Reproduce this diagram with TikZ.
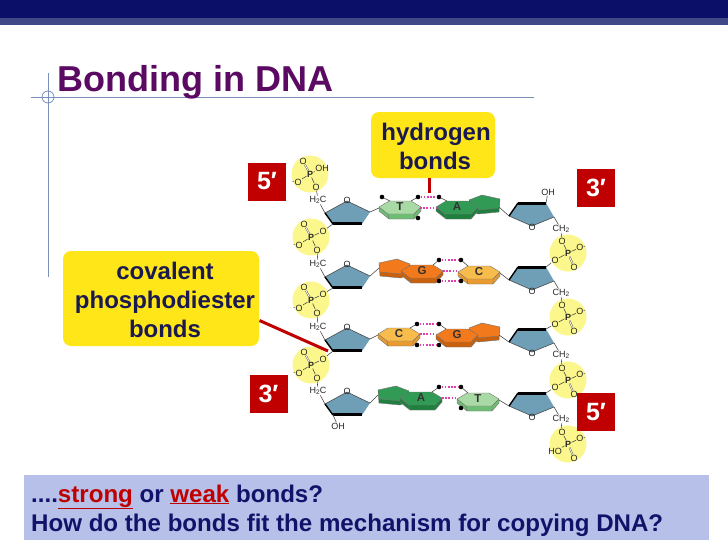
\documentclass[tikz,border=0pt]{standalone}
\usepackage{fontspec}
\setmainfont{Liberation Sans}
\definecolor{navy}{HTML}{0C0F68}
\definecolor{navylow}{HTML}{404888}
\definecolor{guide}{HTML}{7A90B8}
\definecolor{titlepurple}{HTML}{5A0A62}
\definecolor{callout}{HTML}{FFE619}
\definecolor{darkink}{HTML}{1A1A50}
\definecolor{tagred}{HTML}{C00000}
\definecolor{barblue}{HTML}{B6C0E8}
\definecolor{barink}{HTML}{12126A}
\definecolor{sugarblue}{HTML}{6E9FB6}
\definecolor{phosyellow}{HTML}{FBF78C}
\definecolor{hbond}{HTML}{E040B0}
\definecolor{tface}{HTML}{A9D9A4}\definecolor{tside}{HTML}{6FBD74}
\definecolor{aface}{HTML}{319B55}\definecolor{aside}{HTML}{1F7F3E}
\definecolor{gface}{HTML}{F27A1C}\definecolor{gside}{HTML}{C9600E}
\definecolor{cface}{HTML}{F8BC4C}\definecolor{cside}{HTML}{E99A30}
\newcommand{\subtwo}{\raisebox{-1.5pt}{\fontsize{6.5}{7}\selectfont 2}}
\newcommand{\mns}{\raisebox{2pt}{\fontsize{6.5}{7}\selectfont -}}
\tikzset{
  x=1pt,y=-1pt,
  atom/.style={font=\fontsize{9}{9}\selectfont,inner sep=0.3pt,text=black!85},
  bondline/.style={draw=black!75,line width=0.55pt},
  callbox/.style={fill=callout,rounded corners=8pt},
  callink/.style={font=\bfseries\fontsize{24}{24}\selectfont,text=darkink,inner sep=0pt,anchor=base},
  tagbox/.style={fill=tagred,draw=none,minimum width=38pt,minimum height=38pt,inner sep=0pt,text=white,font=\bfseries\fontsize{25}{25}\selectfont},
  barink/.style={font=\bfseries\fontsize{24.1}{24}\selectfont,text=barink,inner sep=0pt,anchor=base west},
  redlead/.style={draw=tagred,line width=3pt},
  hdot/.style={circle,fill=black,inner sep=0pt,minimum size=4.6pt},
  hdash/.style={draw=hbond,line width=1.6pt,dash pattern=on 1.6pt off 1.6pt},
  pics/sugarleft/.style={code={
    \fill[sugarblue] (0,1)--(23,12)--(15,24)--(-14,24)--(-22,13)--cycle;
    \draw[black!70,line width=.6pt] (0,1)--(23,12) (0,1)--(-22,13);
    \draw[black,line width=2.8pt] (-14,23.5)--(15,23.5);
    \draw[black,line width=1.4pt] (-22,13)--(-14,24);
    \node[atom] (-O) at (0,0) {O};
    \coordinate (-c) at (23,12);
    \coordinate (-p) at (-14,24);
    \coordinate (-up) at (-22,13);
  }},
  pics/sugarright/.style={code={
    \fill[sugarblue] (0,-1)--(22,-10)--(14,-24)--(-14,-24)--(-23,-11)--cycle;
    \draw[black!70,line width=.6pt] (0,-1)--(22,-10) (0,-1)--(-23,-11);
    \draw[black,line width=2.8pt] (-14,-23.5)--(14,-23.5);
    \draw[black,line width=1.4pt] (-23,-11)--(-14,-24);
    \node[atom] (-O) at (0,0) {O};
    \coordinate (-c) at (-23,-11);
    \coordinate (-p) at (14,-24);
    \coordinate (-dn) at (22,-10);
  }},
  pics/phosleft/.style={code={
    \fill[phosyellow] (0,0) circle (18.5);
    \node[atom,font=\bfseries\fontsize{9}{9}\selectfont] (-P) at (0,0) {P};
    \node[atom] (-top) at (-7,-13) {O};
    \node[atom] (-side) at (12,-6) {#1};
    \node[atom] (-neg) at (-13,8) {\mns O};
    \node[atom] (-bot) at (6,13) {O};
    \draw[bondline] (-P)--(-side) (-P)--(-neg) (-P)--(-bot);
    \draw[bondline,double,double distance=.9pt,line width=.4pt] (-P)--(-top);
  }},
  pics/phosright/.style={code={
    \fill[phosyellow] (0,0) circle (18.5);
    \node[atom,font=\bfseries\fontsize{9}{9}\selectfont] (-P) at (0,0) {P};
    \node[atom] (-top) at (-6,-12) {O};
    \node[atom] (-neg) at (13,-6) {O\mns};
    \node[atom] (-side) at (-13,7) {#1};
    \node[atom] (-bot) at (6,14) {O};
    \draw[bondline] (-P)--(-side) (-P)--(-neg) (-P)--(-top);
    \draw[bondline,double,double distance=.9pt,line width=.4pt] (-P)--(-bot);
  }},
  pics/base/.style n args={4}{code={
    \ifnum#4=0
      \coordinate (-L) at (-21,0);\coordinate (-R) at (21,0);
    \else\ifnum#4=1
      \coordinate (-L) at (-21,0);\coordinate (-R) at (42,-1);
    \else
      \coordinate (-L) at (-43,-4);\coordinate (-R) at (21,0);
    \fi\fi
    \ifnum#4=0\else
    \begin{scope}[xscale=#4]
      \fill[#2] (12,-8)--(43,-9)--(42,4)--(21,6)--(12,3)--cycle;
      \fill[#1] (12,-8)--(25,-13)--(43,-9)--(42,0)--(21,2)--cycle;
      \draw[black!55,line width=.4pt] (12,-8)--(25,-13)--(43,-9)--(42,4)--(21,6) (42,0)--(21,2);
    \end{scope}
    \fi
    \fill[#2] (-21,-1)--(-21,3)--(-11,11)--(14,11)--(21,3)--(21,-1)--cycle;
    \fill[#1] (-21,-1)--(-11,-7)--(11,-7)--(21,-1)--(14,6)--(-12,6)--cycle;
    \draw[black!55,line width=.4pt] (-21,-1)--(-11,-7)--(11,-7)--(21,-1)--(21,3)--(14,11)--(-11,11)--(-21,3)--cycle (-21,-1)--(-12,6)--(14,6)--(21,-1) (14,6)--(14,11) (-12,6)--(-11,11);
    \node[font=\bfseries\fontsize{11.5}{12}\selectfont,inner sep=0pt,text=black!80] (-t) at (0,-1) {#3};
  }}
}
\begin{document}
\begin{tikzpicture}
\useasboundingbox (0,0) rectangle (728,546);
\fill[white] (0,0) rectangle (728,546);
% header band
\fill[navylow] (0,18) rectangle (728,25);
\fill[navy] (0,0) rectangle (728,18);
% title guide
\draw[guide,line width=.8pt] (30.5,97) -- (534,97);
\draw[guide,line width=.8pt] (48,73) -- (48,277);
\draw[guide,line width=.8pt] (48,97) circle (6);
\node[font=\bfseries\fontsize{36}{36}\selectfont,text=titlepurple,inner sep=0pt,anchor=base west] (title) at (57,91) {Bonding in DNA};
% phosphates
\pic (pl1) at (310,174) {phosleft={OH}};
\pic (pl2) at (311,237) {phosleft={O}};
\pic (pl3) at (311,300) {phosleft={O}};
\pic (pl4) at (311,365) {phosleft={O}};
\pic (pr1) at (568,253) {phosright={O}};
\pic (pr2) at (568,317) {phosright={O}};
\pic (pr3) at (568,380) {phosright={O}};
\pic (pr4) at (568,444) {phosright={HO}};
% sugars
\pic (sl1) at (347,200) {sugarleft};
\pic (sl2) at (347,264) {sugarleft};
\pic (sl3) at (347,327) {sugarleft};
\pic (sl4) at (347,391) {sugarleft};
\pic (sr1) at (532,227) {sugarright};
\pic (sr2) at (532,291) {sugarright};
\pic (sr3) at (532,353) {sugarright};
\pic (sr4) at (532,417) {sugarright};
% carbon labels
\node[atom] (h1) at (318,200) {H\subtwo C};
\node[atom] (h2) at (318,264) {H\subtwo C};
\node[atom] (h3) at (318,327) {H\subtwo C};
\node[atom] (h4) at (318,391) {H\subtwo C};
\node[atom] (c1) at (561,229) {CH\subtwo};
\node[atom] (c2) at (561,293) {CH\subtwo};
\node[atom] (c3) at (561,355) {CH\subtwo};
\node[atom] (c4) at (561,419) {CH\subtwo};
\node[atom] (oh3) at (338,426) {OH};
\node[atom] (oh5) at (548,192) {OH};
\draw[bondline] (pl1-bot)--(h1) (pl2-bot)--(h2) (pl3-bot)--(h3) (pl4-bot)--(h4);
\draw[bondline] (h1)--(sl1-up) (h2)--(sl2-up) (h3)--(sl3-up) (h4)--(sl4-up);
\draw[bondline] (sl1-p)--(pl2-side) (sl2-p)--(pl3-side) (sl3-p)--(pl4-side);
\draw[bondline] (sl4-p)--(oh3) (sr1-p)--(oh5);
\draw[bondline] (sr1-dn)--(c1) (sr2-dn)--(c2) (sr3-dn)--(c3) (sr4-dn)--(c4);
\draw[bondline] (c1)--(pr1-top) (c2)--(pr2-top) (c3)--(pr3-top) (c4)--(pr4-top);
\draw[bondline] (sr2-p)--(pr1-side) (sr3-p)--(pr2-side) (sr4-p)--(pr3-side);
% bases
\pic (b1l) at (400,208) {base={tface}{tside}{T}{0}};
\pic (b1r) at (457,208) {base={aface}{aside}{A}{1}};
\pic (b2l) at (422,272) {base={gface}{gside}{G}{-1}};
\pic (b2r) at (479,273) {base={cface}{cside}{C}{0}};
\pic (b3l) at (399,335) {base={cface}{cside}{C}{0}};
\pic (b3r) at (457,336) {base={gface}{gside}{G}{1}};
\pic (b4l) at (421,399) {base={aface}{aside}{A}{-1}};
\pic (b4r) at (478,400) {base={tface}{tside}{T}{0}};
\draw[bondline] (sl1-c)--(b1l-L) (sl2-c)--(b2l-L) (sl3-c)--(b3l-L) (sl4-c)--(b4l-L);
\draw[bondline] (b1r-R)--(sr1-c) (b2r-R)--(sr2-c) (b3r-R)--(sr3-c) (b4r-R)--(sr4-c);
% hydrogen bond dots, row by row
\node[hdot] (d1a) at (382,197) {}; \node[hdot] (d1b) at (418,197) {};
\node[hdot] (d1c) at (418,218) {}; \node[hdot] (d1d) at (439,197) {};
\coordinate (m1a) at (420,208); \coordinate (m1b) at (437,208);
\draw[hdash] (d1b)--(d1d); \draw[hdash] (m1a)--(m1b);
\draw[bondline] (d1a)--(390,201) (d1b)--(411,201) (d1d)--(447,201);
\node[hdot] (d2a) at (439,260) {}; \node[hdot] (d2b) at (461,260) {};
\node[hdot] (d2c) at (439,281) {}; \node[hdot] (d2d) at (461,281) {};
\coordinate (m2a) at (443,271); \coordinate (m2b) at (458,271);
\draw[hdash] (d2a)--(d2b); \draw[hdash] (m2a)--(m2b); \draw[hdash] (d2c)--(d2d);
\draw[bondline] (d2a)--(433,265) (d2b)--(468,266);
\node[hdot] (d3a) at (417,324) {}; \node[hdot] (d3b) at (439,324) {};
\node[hdot] (d3c) at (417,345) {}; \node[hdot] (d3d) at (439,345) {};
\coordinate (m3a) at (420,334); \coordinate (m3b) at (436,334);
\draw[hdash] (d3a)--(d3b); \draw[hdash] (m3a)--(m3b); \draw[hdash] (d3c)--(d3d);
\draw[bondline] (d3a)--(410,328) (d3b)--(446,329);
\node[hdot] (d4a) at (439,387) {}; \node[hdot] (d4b) at (461,387) {};
\node[hdot] (d4c) at (461,408) {};
\coordinate (m4a) at (442,398); \coordinate (m4b) at (458,398);
\draw[hdash] (d4a)--(d4b); \draw[hdash] (m4a)--(m4b);
\draw[bondline] (d4a)--(432,392) (d4b)--(468,393);
% callouts
\coordinate (hlead) at (429,193);
\coordinate (clead) at (328,351);
\node[callbox,minimum width=124pt,minimum height=66pt,inner sep=0pt] (hbox) at (433,145) {};
\node[callbox,minimum width=196pt,minimum height=95pt,inner sep=0pt] (cbox) at (161,298.5) {};
\draw[redlead] (hlead |- hbox.south) -- (hlead);
\draw[redlead] (259.5,320.5) -- (clead);
\node[callink] (ht1) at (436,140) {hydrogen};
\node[callink] (ht2) at (435,169) {bonds};
\node[callink] (ct1) at (165,279) {covalent};
\node[callink] (ct2) at (165,308) {phosphodiester};
\node[callink] (ct3) at (165,337) {bonds};
% end tags
\node[tagbox] (t5a) at (267,181.5) {5′};
\node[tagbox] (t3a) at (596,187.5) {3′};
\node[tagbox] (t3b) at (268.5,393.5) {3′};
\node[tagbox] (t5b) at (596,412) {5′};
% question bar
\fill[barblue] (24,475) rectangle (709,540);
\node[barink] (q1) at (31,502) {....\textcolor{tagred}{\underline{strong}} or \textcolor{tagred}{\underline{weak}} bonds?};
\node[barink] (q2) at (31,531) {How do the bonds fit the mechanism for copying DNA?};
\end{tikzpicture}
\end{document}
